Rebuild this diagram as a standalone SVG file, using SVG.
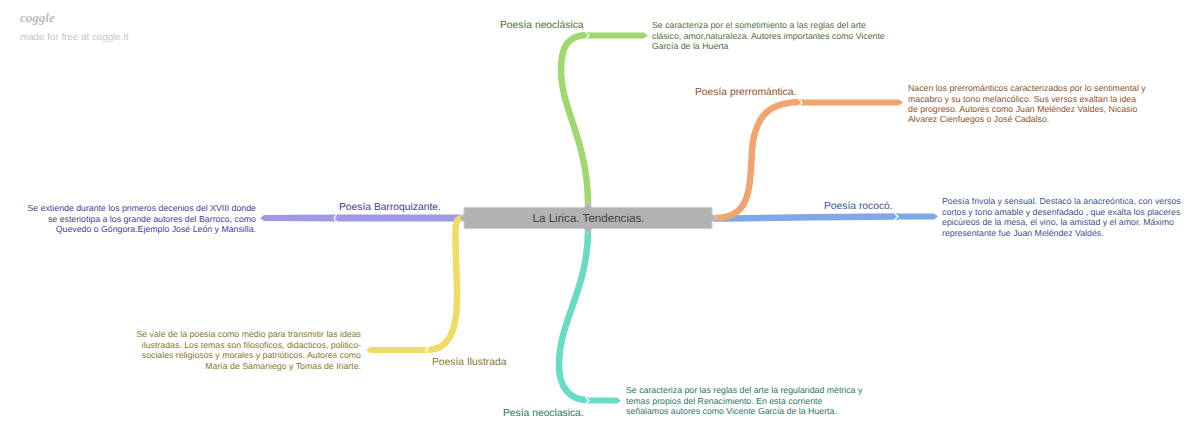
<svg xmlns="http://www.w3.org/2000/svg" width="1200" height="440" viewBox="0 0 1200 440">
<style>
text{font-family:"Liberation Sans",Arial,sans-serif;text-rendering:geometricPrecision}
.t{font-size:10.300px}
.b{font-size:8.780px}
.e{text-anchor:end}
.c{fill:none;stroke-width:6.500;stroke-linecap:butt}
.w{fill:none;stroke:#fff;stroke-width:1.200}
.g1{fill:#4f7035}.g2{fill:#8f5228}.g3{fill:#37548e}.g4{fill:#4a3a96}.g5{fill:#85772e}.g6{fill:#2b7566}
</style>
<rect width="1200" height="440" fill="#fff"/>
<g id="brand">
<text x="20" y="22" font-size="13" font-style="italic" font-weight="bold" fill="#bdbdbd" style="font-family:'Liberation Serif',serif">coggle</text>
<text x="20" y="40" font-size="9.800" fill="#c6c6c6">made for free at coggle.it</text>
</g>
<g id="connectors">
<path fill="#a09ae6" d="M462 214.500V221.500H338L264 221L260 218L264 215L338 214.500z"/>
<path class="w" d="M337 214L334 218L337 222"/>
<path class="c" stroke="#7fa8e8" d="M714 218.500C780 218 840 216.500 898 216.500"/>
<path fill="#7fa8e8" d="M895 213.500H934L938 216.500L934 219.500H895z"/>
<path class="w" d="M894.500 213L898 216.500L894.500 220"/>
<path class="c" stroke="#9fd86e" d="M588 205C588 140 561 110 561 70C561 46 568 35 588 35"/>
<path fill="#9fd86e" d="M586 32.500H644L648 35.500L644 38.500H586z"/>
<path class="w" d="M585.500 32L589 35.500L585.500 39"/>
<path class="c" stroke="#f0a56e" d="M716 218C750 218 750 190 752 150C755 115 770 102 801 102"/>
<path fill="#f0a56e" d="M799 99.500H899L903 102.500L899 105.500H799z"/>
<path class="w" d="M798.500 98.500L802 102.500L798.500 106.500"/>
<path class="c" stroke="#eedc66" d="M462 218C452 218 456 235 457 290C458 330 450 350 426 350"/>
<path fill="#eedc66" d="M428 347H370L366 350L370 353H428z"/>
<path class="w" d="M429 346.500L425.500 350L429 353.500"/>
<path class="c" stroke="#66dcc2" d="M588 230C588 290 559 320 559 365C559 388 570 400 588 400"/>
<path fill="#66dcc2" d="M586 397.500H617L621 400.500L617 403.500H586z"/>
<path class="w" d="M585.500 397L589 400.500L585.500 404"/>
</g>
<g id="root">
<path fill="#b2b2b2" stroke="#cfcfcf" d="M464 207.500H584L588 202L592 207.500H712V214L717 218L712 222V228.500H592L588 234L584 228.500H464V222L459 218L464 214z"/>
<text x="588.500" y="222" font-size="11.600" text-anchor="middle" fill="#444">La Lirica. Tendencias.</text>
</g>
<g id="n1"><text class="t g1" x="500" y="28">Poesía neoclásica</text>
<text class="b g1"><tspan x="652" y="28">Se caracteriza por el sometimiento a las reglas del arte</tspan><tspan x="652" y="38.500">clásico, amor,naturaleza. Autores importantes como Vicente</tspan><tspan x="652" y="49">García de la Huerta</tspan></text></g>
<g id="n2"><text class="t g2" x="695" y="95">Poesía prerromántica.</text>
<text class="b g2"><tspan x="908" y="91">Nacen los prerrománticos caracterizados por lo sentimental y</tspan><tspan x="908" y="101.500">macabro y su tono melancólico. Sus versos exaltan la idea</tspan><tspan x="908" y="112">de progreso. Autores como Juan Meléndez Valdes, Nicasio</tspan><tspan x="908" y="122">Alvarez Cienfuegos o José Cadalso.</tspan></text></g>
<g id="n3"><text class="t g3" x="824" y="209">Poesía rococó.</text>
<text class="b g3"><tspan x="942" y="204">Poesía frivola y sensual. Destacó la anacreóntica, con versos</tspan><tspan x="942" y="214.500">cortos y tono amable y desenfadado , que exalta los placeres</tspan><tspan x="942" y="225">epicúreos de la mesa, el vino, la amistad y el amor. Máximo</tspan><tspan x="942" y="235.500">representante fue Juan Meléndez Valdés.</tspan></text></g>
<g id="n4"><text class="t g4" x="339" y="210">Poesía Barroquizante.</text>
<text class="b g4 e"><tspan x="256" y="211">Se extiende durante los primeros decenios del XVIII donde</tspan><tspan x="256" y="221.500">se esteriotipa a los grande autores del Barroco, como</tspan><tspan x="256" y="232">Quevedo o Góngora.Ejemplo José León y Mansilla.</tspan></text></g>
<g id="n5"><text class="t g5" x="432" y="365">Poesía Ilustrada</text>
<text class="b g5 e"><tspan x="361" y="337">Se vale de la poesia como medio para transmitir las ideas</tspan><tspan x="361" y="347.500">ilustradas. Los temas son filosoficos, didacticos, politico-</tspan><tspan x="361" y="358">sociales religiosos y morales y patrióticos. Autores como</tspan><tspan x="361" y="368.500">María de Samaniego y Tomas de Iriarte.</tspan></text></g>
<g id="n6"><text class="t g6" x="503" y="416">Pesía neoclasica.</text>
<text class="b g6"><tspan x="626" y="393">Se caracteriza por las reglas del arte la regularidad métrica y</tspan><tspan x="626" y="403.500">temas propios del Renacimiento. En esta corriente</tspan><tspan x="626" y="414">señalamos autores como Vicente García de la Huerta.</tspan></text></g>
</svg>
